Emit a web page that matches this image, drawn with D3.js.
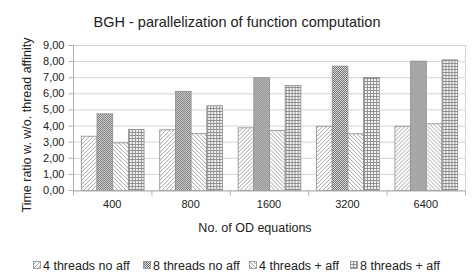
<!DOCTYPE html>
<html>
<head>
<meta charset="utf-8">
<script src="https://cdn.jsdelivr.net/npm/d3@7"></script>
<style>
  body { margin: 0; background: #fff; }
  svg text { font-family: "Liberation Sans", Arial, sans-serif; fill: #222; }
</style>
</head>
<body>
<svg width="474" height="276"></svg>
<script>
const categories = ["400", "800", "1600", "3200", "6400"];
const seriesNames = ["4 threads no aff", "8 threads no aff", "4 threads + aff", "8 threads + aff"];
const fourNoAff = [3.37, 3.77, 3.89, 3.99, 3.99];
const eightNoAff = [4.76, 6.16, 7.0, 7.72, 8.03];
const fourAff = [2.96, 3.54, 3.72, 3.52, 4.14];
const eightAff = [3.79, 5.26, 6.52, 7.01, 8.11];
const yTicks = [0, 1, 2, 3, 4, 5, 6, 7, 8, 9];

const seriesValues = [fourNoAff, eightNoAff, fourAff, eightAff];
const patternIds = ["p-fwd", "p-check", "p-back", "p-grid"];

const svg = d3.select("svg");
const defs = svg.append("defs");

// forward diagonal hatch
const pf = defs.append("pattern").attr("id", "p-fwd")
  .attr("patternUnits", "userSpaceOnUse").attr("width", 4).attr("height", 4);
pf.append("rect").attr("width", 4).attr("height", 4).attr("fill", "#fff");
pf.append("path").attr("d", "M-1,1 l2,-2 M0,4 l4,-4 M3,5 l2,-2")
  .attr("stroke", "#8a8a8a").attr("stroke-width", 0.8);

// back diagonal hatch
const pb = defs.append("pattern").attr("id", "p-back")
  .attr("patternUnits", "userSpaceOnUse").attr("width", 4).attr("height", 4);
pb.append("rect").attr("width", 4).attr("height", 4).attr("fill", "#fff");
pb.append("path").attr("d", "M-1,3 l2,2 M0,0 l4,4 M3,-1 l2,2")
  .attr("stroke", "#8a8a8a").attr("stroke-width", 0.8);

// dense checker
const pc = defs.append("pattern").attr("id", "p-check")
  .attr("patternUnits", "userSpaceOnUse").attr("width", 2).attr("height", 2);
pc.append("rect").attr("width", 2).attr("height", 2).attr("fill", "#e4e4e4");
pc.append("rect").attr("width", 1).attr("height", 1).attr("fill", "#6a6a6a");
pc.append("rect").attr("x", 1).attr("y", 1).attr("width", 1).attr("height", 1).attr("fill", "#6a6a6a");

// small grid
const pg = defs.append("pattern").attr("id", "p-grid")
  .attr("patternUnits", "userSpaceOnUse").attr("width", 3).attr("height", 3);
pg.append("rect").attr("width", 3).attr("height", 3).attr("fill", "#f6f6f6");
pg.append("path").attr("d", "M0,0.5 H3 M0.5,0 V3")
  .attr("stroke", "#909090").attr("stroke-width", 1);

const margin = { left: 73, right: 9, top: 45, bottom: 86 };
const width = 474 - margin.left - margin.right;
const height = 276 - margin.top - margin.bottom;

const g = svg.append("g").attr("transform", `translate(${margin.left},${margin.top})`);

const x = d3.scaleBand().domain(categories).range([0, width]).paddingInner(0.2).paddingOuter(0.1);
const xOuter = d3.scaleBand().domain(categories).range([0, width]);
const xInner = d3.scaleBand().domain(d3.range(seriesNames.length)).range([0, x.bandwidth()]);
const y = d3.scaleLinear().domain([0, 9]).range([height, 0]);

// grid
g.append("g")
  .selectAll("line")
  .data(yTicks)
  .join("line")
  .attr("x1", 0).attr("x2", width)
  .attr("y1", d => y(d) + 0.5).attr("y2", d => y(d) + 0.5)
  .attr("stroke", "#d4d4d4");

// frame right
g.append("line").attr("x1", width + 0.5).attr("x2", width + 0.5)
  .attr("y1", 0).attr("y2", height).attr("stroke", "#d4d4d4");

// bars
const groups = g.append("g")
  .selectAll("g")
  .data(categories)
  .join("g")
  .attr("transform", d => `translate(${xOuter(d) + (xOuter.bandwidth() - x.bandwidth()) / 2},0)`);

groups.selectAll("rect")
  .data((c, ci) => seriesValues.map((vals, si) => ({ si, v: vals[ci] })))
  .join("rect")
  .attr("x", d => xInner(d.si) + 0.5)
  .attr("width", xInner.bandwidth())
  .attr("y", d => y(d.v) + 0.5)
  .attr("height", d => y(0) - y(d.v))
  .attr("fill", d => `url(#${patternIds[d.si]})`)
  .attr("stroke", "#8c8c8c")
  .attr("stroke-width", 0.8);

// y axis
const yAxis = d3.axisLeft(y).tickValues(yTicks)
  .tickFormat(d => d3.format(".2f")(d).replace(".", ","))
  .tickSize(5).tickPadding(4);
const ya = g.append("g").attr("transform", "translate(0.5,0)").call(yAxis);
ya.select(".domain").attr("stroke", "#b0b0b0").attr("d", `M-5,${height + 0.5}H0V0`);
ya.selectAll(".tick line").attr("stroke", "#b0b0b0");
ya.selectAll("text").attr("font-size", 11).attr("fill", "#222");

// x axis
const xAxis = d3.axisBottom(xOuter).tickSize(0).tickPadding(10);
const xa = g.append("g").attr("transform", `translate(0,${height + 0.5})`).call(xAxis);
xa.select(".domain").attr("stroke", "#b0b0b0");
xa.selectAll("text").attr("font-size", 11).attr("fill", "#222");
xa.selectAll(".sep")
  .data(d3.range(categories.length + 1))
  .join("line")
  .attr("class", "sep")
  .attr("x1", i => i * xOuter.step() + 0.5).attr("x2", i => i * xOuter.step() + 0.5)
  .attr("y1", 0).attr("y2", 5)
  .attr("stroke", "#b0b0b0");

// title
svg.append("text")
  .attr("x", 237).attr("y", 27)
  .attr("text-anchor", "middle")
  .attr("font-size", 14.5)
  .text("BGH - parallelization of function computation");

// axis titles
svg.append("text")
  .attr("transform", "translate(31,125) rotate(-90)")
  .attr("text-anchor", "middle")
  .attr("font-size", 12.5)
  .text("Time ratio w. w/o. thread affinity");

svg.append("text")
  .attr("x", 255).attr("y", 232)
  .attr("text-anchor", "middle")
  .attr("font-size", 12.5)
  .text("No. of OD equations");

// legend
const legendX = [33, 143, 249, 350];
const legend = svg.append("g")
  .selectAll("g")
  .data(seriesNames)
  .join("g")
  .attr("transform", (d, i) => `translate(${legendX[i]},261)`);
legend.append("rect")
  .attr("x", 0.5).attr("y", 0.5).attr("width", 7).attr("height", 7)
  .attr("fill", (d, i) => `url(#${patternIds[i]})`)
  .attr("stroke", "#8c8c8c").attr("stroke-width", 0.8);
legend.append("text")
  .attr("x", 10).attr("y", 9)
  .attr("font-size", 12.5)
  .text(d => d);
</script>
</body>
</html>
